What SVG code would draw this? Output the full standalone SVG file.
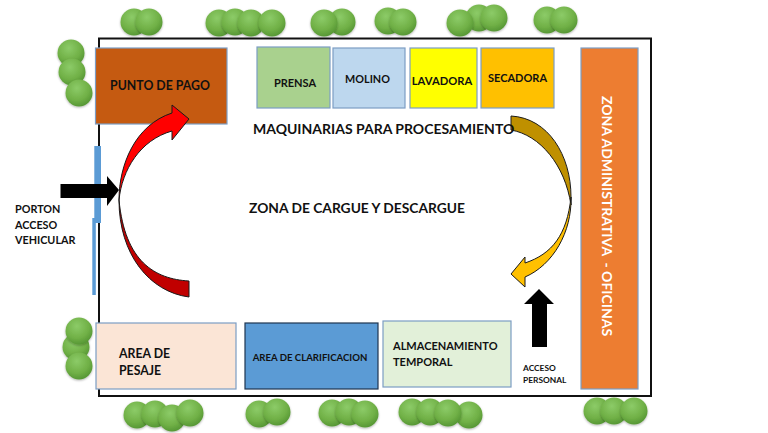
<svg xmlns="http://www.w3.org/2000/svg" xmlns:xlink="http://www.w3.org/1999/xlink" width="768" height="433" viewBox="0 0 768 433">
<style>
text{font-family:"Lato","Liberation Sans",sans-serif;font-weight:700;fill:#111}
.box{stroke:#7c9dc4;stroke-width:1.2}
.ar{stroke:#1a1a1a;stroke-width:1;stroke-linejoin:miter}
</style>
<defs>
<radialGradient id="g" cx="0.42" cy="0.32" r="0.75"><stop offset="0" stop-color="#8ccb68"/><stop offset="0.6" stop-color="#70b046"/><stop offset="1" stop-color="#4f9030"/></radialGradient>
<filter id="s" x="-20%" y="-20%" width="140%" height="150%"><feDropShadow dx="0" dy="1" stdDeviation="0.8" flood-color="#000" flood-opacity="0.3"/></filter>
<circle id="t" r="13.5" fill="url(#g)" filter="url(#s)"/>
</defs>
<rect width="768" height="433" fill="#fff"/>
<rect id="frame" x="99" y="38.500" width="552" height="357.500" fill="none" stroke="#111" stroke-width="2"/>
<g id="trees">
<use href="#t" x="134" y="22"/><use href="#t" x="149" y="22"/>
<use href="#t" x="219" y="23"/><use href="#t" x="235" y="22"/><use href="#t" x="251" y="23"/><use href="#t" x="272" y="23"/>
<use href="#t" x="342" y="22"/><use href="#t" x="324" y="23"/>
<use href="#t" x="388" y="21"/><use href="#t" x="403" y="22"/>
<use href="#t" x="479" y="18"/><use href="#t" x="460" y="23"/><use href="#t" x="494" y="18"/>
<use href="#t" x="547" y="20"/><use href="#t" x="564" y="20"/>
<use href="#t" x="71" y="53"/><use href="#t" x="72" y="72"/><use href="#t" x="79" y="93"/>
<use href="#t" x="76" y="347"/><use href="#t" x="79" y="331"/><use href="#t" x="79" y="366"/>
<use href="#t" x="137" y="415"/><use href="#t" x="155" y="414"/><use href="#t" x="172" y="418"/><use href="#t" x="190" y="413"/>
<use href="#t" x="259" y="414"/><use href="#t" x="277" y="412"/>
<use href="#t" x="332" y="413"/><use href="#t" x="349" y="412"/><use href="#t" x="365" y="414"/>
<use href="#t" x="412" y="412"/><use href="#t" x="430" y="412"/><use href="#t" x="469" y="415"/><use href="#t" x="448" y="413"/>
<use href="#t" x="597" y="411"/><use href="#t" x="614" y="411"/><use href="#t" x="634" y="411"/>
</g>
<g id="punto"><rect class="box" x="95.500" y="48" width="131.500" height="76" fill="#c55a11"/><text x="160" y="90" font-size="12.300" text-anchor="middle">PUNTO DE PAGO</text></g>
<g id="prensa"><rect class="box" x="257" y="47" width="73" height="61" fill="#a9d18e"/><text x="295" y="87" font-size="11" text-anchor="middle">PRENSA</text></g>
<g id="molino"><rect class="box" x="333" y="48" width="72" height="60" fill="#bdd7ee"/><text x="367.500" y="83" font-size="10.800" text-anchor="middle">MOLINO</text></g>
<g id="lavadora"><rect class="box" x="410" y="48" width="67" height="60" fill="#ffff00"/><text x="442" y="85" font-size="11.200" text-anchor="middle">LAVADORA</text></g>
<g id="secadora"><rect class="box" x="481" y="48" width="73" height="60" fill="#ffc000"/><text x="517.500" y="82" font-size="11" text-anchor="middle">SECADORA</text></g>
<g id="admin"><rect class="box" x="581" y="48" width="57" height="341" fill="#ed7d31"/><text transform="translate(602,216) rotate(90)" font-size="14" text-anchor="middle" xml:space="preserve" style="fill:#fff">ZONA ADMINISTRATIVA  - OFICINAS</text></g>
<g id="pesaje"><rect class="box" x="96" y="323" width="140" height="66" fill="#fbe5d6"/><text x="119" y="358" font-size="12.300">AREA DE</text><text x="119" y="375" font-size="12.300">PESAJE</text></g>
<g id="clarificacion"><rect x="245" y="323" width="133" height="66" fill="#5b9bd5" stroke="#1f3550" stroke-width="1.200"/><text x="310" y="361" font-size="9.600" text-anchor="middle">AREA DE CLARIFICACION</text></g>
<g id="almacenamiento"><rect class="box" x="383" y="321" width="128" height="66" fill="#e2f0d9"/><text x="393" y="350" font-size="11">ALMACENAMIENTO</text><text x="393" y="366" font-size="11">TEMPORAL</text></g>
<g id="connectors">
<rect x="94.300" y="146" width="6.700" height="77" fill="#5b9bd5"/>
<rect x="92.300" y="218" width="3.500" height="77" fill="#5b9bd5"/>
<path d="M60.500,184H107V176L119,190L107,206V198H60.500Z" fill="#000"/>
<path class="ar" d="M189,281C155,279 125,262 119,200C119,255 150,292 189,297Z" fill="#c00000"/>
<path class="ar" d="M119,200C119,165 135,125 172,113V105L189,119L172,140V131C140,140 122,170 119,200Z" fill="#ff0000"/>
<path class="ar" d="M511,116C548,118 571,155 571,197V205C565,165 540,135 511,130Z" fill="#bf9000"/>
<path class="ar" d="M571,197C572,232 553,265 525,277V287L511,274L525,257V263C552,254 567,235 571,197Z" fill="#ffc000"/>
<path d="M539,289L554,304H547V347H532V304H524Z" fill="#000"/>
</g>
<g id="labels">
<text x="253" y="134" font-size="14">MAQUINARIAS PARA PROCESAMIENTO</text>
<text x="249" y="213" font-size="13.800">ZONA DE CARGUE Y DESCARGUE</text>
<text x="15" y="213" font-size="10.800">PORTON</text>
<text x="15" y="229" font-size="10.800">ACCESO</text>
<text x="15" y="244" font-size="10.800">VEHICULAR</text>
<text x="523" y="371" font-size="8.400">ACCESO</text>
<text x="523" y="383" font-size="8.400">PERSONAL</text>
</g>
</svg>
